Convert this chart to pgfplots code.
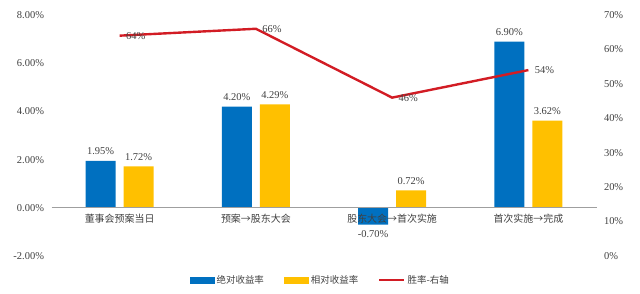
\documentclass[border=0pt]{standalone}
\usepackage{fontspec}
\setmainfont{Liberation Serif}
\newfontfamily\cjk{Noto Sans CJK SC}
\usepackage{pgfplots}
\pgfplotsset{compat=1.18}
\definecolor{cblue}{RGB}{0,112,192}
\definecolor{cyellow}{RGB}{255,192,0}
\definecolor{cred}{RGB}{210,28,36}
\definecolor{tgray}{RGB}{64,64,64}
\begin{document}
\begin{tikzpicture}
\useasboundingbox (0bp,0bp) rectangle (640bp,294bp);
\begin{axis}[
  at={(51.5bp,38bp)}, anchor=south west,
  scale only axis, width=545bp, height=241bp,
  xmin=-0.5, xmax=3.5, ymin=-2, ymax=8,
  ybar=8bp, bar width=30bp,
  axis on top,
  axis x line*=middle, axis y line*=left,
  y axis line style={draw=none},
  x axis line style={draw=gray!75, line width=0.8pt},
  major tick length=0pt,
  /pgf/number format/assume math mode=true,
  ytick={-2,0,2,4,6,8},
  yticklabel={\pgfmathprintnumber[fixed,fixed zerofill,precision=2]{\tick}\%},
  yticklabel style={font=\fontsize{10.5}{12}\selectfont, color=tgray, xshift=-4bp},
  xtick={0,1,2,3},
  xticklabels={董事会预案当日,预案→股东大会,股东大会→首次实施,首次实施→完成},
  xticklabel style={font=\cjk\fontsize{10}{12}\selectfont, color=tgray, yshift=-3bp},
  clip=false,
  nodes near coords={\pgfmathprintnumber[fixed,fixed zerofill,precision=2]{\pgfplotspointmeta}\%},
  nodes near coords style={font=\fontsize{10.5}{12}\selectfont, color=tgray, inner sep=6bp},
  legend style={at={(0.493,-0.10)}, anchor=center, draw=none, fill=none,
    legend columns=3, font=\cjk\fontsize{9.5}{11}\selectfont, text=tgray,
    /tikz/every even column/.append style={column sep=18bp},
    inner sep=0pt},
]
\addplot[fill=cblue, draw=none,
  legend image code/.code={\fill[cblue] (0bp,-3.5bp) rectangle (25bp,3.5bp);}]
  coordinates {(0,1.95) (1,4.20) (2,-0.70) (3,6.90)};
\addlegendentry{绝对收益率}
\addplot[fill=cyellow, draw=none,
  legend image code/.code={\fill[cyellow] (0bp,-3.5bp) rectangle (25bp,3.5bp);}]
  coordinates {(0,1.72) (1,4.29) (2,0.72) (3,3.62)};
\addlegendentry{相对收益率}
\addlegendimage{legend image code/.code={\draw[cred, line width=2.4pt] (0bp,0bp) -- (25bp,0bp);}}
\addlegendentry{胜率-右轴}
\end{axis}
\begin{axis}[
  at={(51.5bp,38bp)}, anchor=south west,
  scale only axis, width=545bp, height=241bp,
  xmin=-0.5, xmax=3.5, ymin=0, ymax=70,
  axis x line=none, axis y line*=right,
  y axis line style={draw=none},
  major tick length=0pt,
  /pgf/number format/assume math mode=true,
  ytick={0,10,...,70},
  yticklabel={\pgfmathprintnumber{\tick}\%},
  yticklabel style={font=\fontsize{10.5}{12}\selectfont, color=tgray, xshift=4bp},
  clip=false,
]
\addplot[cred, line width=2.4pt, mark=none,
  nodes near coords={\pgfmathprintnumber{\pgfplotspointmeta}\%},
  nodes near coords style={anchor=west, font=\fontsize{10.5}{12}\selectfont, color=tgray, xshift=2bp}]
  coordinates {(0,64) (1,66) (2,46) (3,54)};
\end{axis}
\end{tikzpicture}
\end{document}
